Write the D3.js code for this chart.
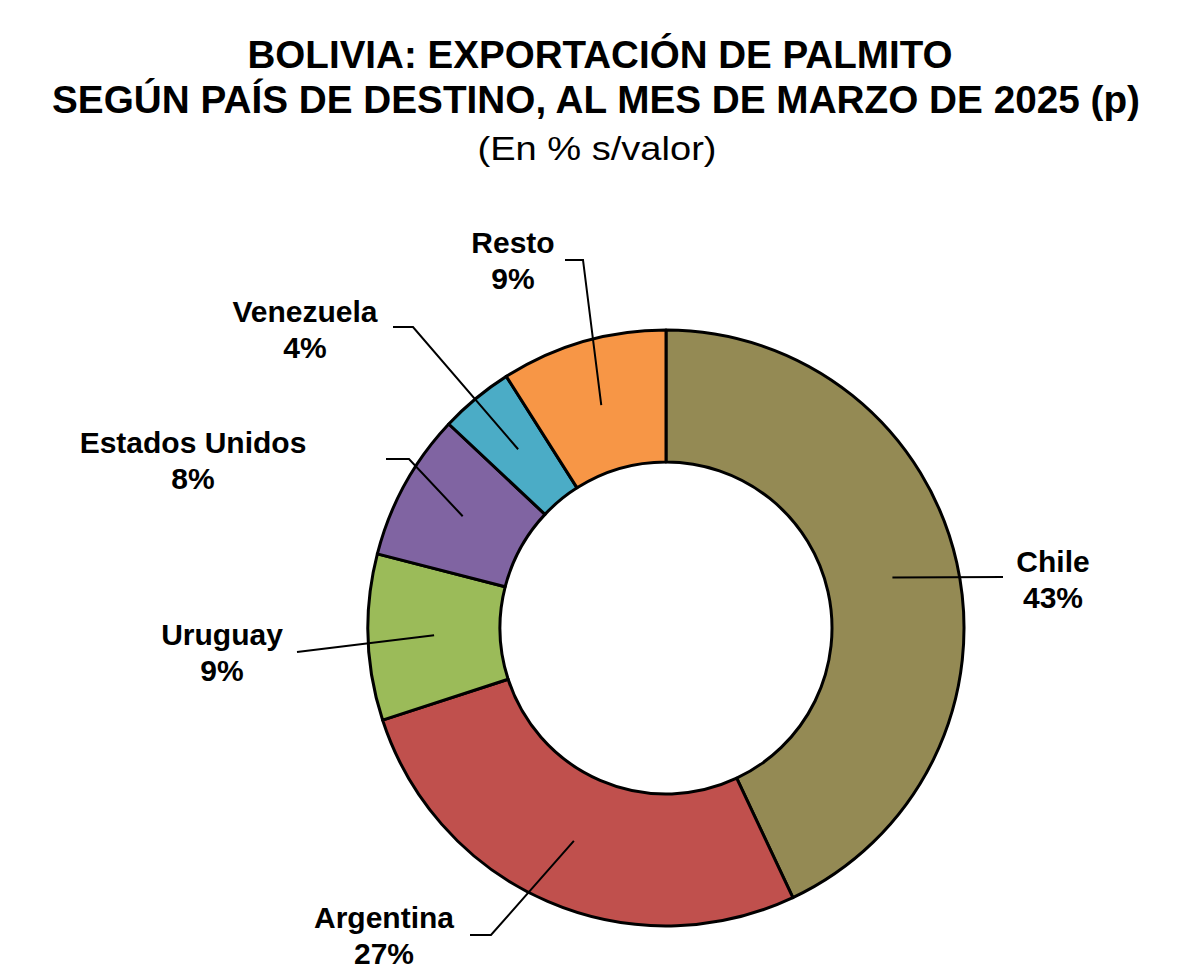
<meta charset="utf-8">
<title>Bolivia: exportación de palmito</title>
<style>
  body { margin: 0; background: #fff; }
  svg text { font-family: "Liberation Sans", Arial, sans-serif; fill: #000; }
</style>
<svg width="1200" height="979"></svg>
<script src="https://d3js.org/d3.v7.min.js"></script>
<script>

// data (share of value, %)
var paises  = ["Chile", "Argentina", "Uruguay", "Estados Unidos", "Venezuela", "Resto"];
var valores = [43, 27, 9, 8, 4, 9];
var colores = ["#948A54", "#C0504D", "#9BBB59", "#8064A2", "#4BACC6", "#F79646"];

var titulo = ["BOLIVIA: EXPORTACIÓN DE PALMITO",
              "SEGÚN PAÍS DE DESTINO, AL MES DE MARZO DE 2025 (p)"];
var subtitulo = "(En % s/valor)";

// where each label sits (hand placed, like in the original sheet)
var layout = {
  "Chile":          { tx: 1053, ty: 572, elbow: null,       end: [1003, 577] },
  "Argentina":      { tx: 384,  ty: 928, elbow: [491, 935], end: [470, 935] },
  "Uruguay":        { tx: 222,  ty: 645, elbow: null,       end: [297, 652] },
  "Estados Unidos": { tx: 193,  ty: 453, elbow: [409, 459], end: [386, 459] },
  "Venezuela":      { tx: 305,  ty: 322, elbow: [413, 327], end: [393, 327] },
  "Resto":          { tx: 513,  ty: 253, elbow: [583, 260], end: [565, 260] }
};

var svg = d3.select("svg");
var cx = 666, cy = 628;
var rOut = 298, rIn = 166;

// title
svg.append("text").attr("x", 600).attr("y", 68)
  .attr("text-anchor", "middle").attr("font-weight", "bold").attr("font-size", 38)
  .attr("textLength", 705).attr("lengthAdjust", "spacingAndGlyphs")
  .text(titulo[0]);
svg.append("text").attr("x", 596).attr("y", 113)
  .attr("text-anchor", "middle").attr("font-weight", "bold").attr("font-size", 38)
  .attr("textLength", 1088).attr("lengthAdjust", "spacingAndGlyphs")
  .text(titulo[1]);
svg.append("text").attr("x", 597).attr("y", 160)
  .attr("text-anchor", "middle").attr("font-size", 33)
  .attr("textLength", 239).attr("lengthAdjust", "spacingAndGlyphs")
  .text(subtitulo);

var data = paises.map(function(p, i) {
  return { name: p, value: valores[i], color: colores[i] };
});

var pie = d3.pie().value(function(d) { return d.value; }).sort(null);
var arc = d3.arc().innerRadius(rIn).outerRadius(rOut);
var mid = d3.arc().innerRadius(232).outerRadius(232);

var g = svg.append("g").attr("transform", "translate(" + cx + "," + cy + ")");
var arcs = pie(data);

g.selectAll("path")
  .data(arcs)
  .enter()
  .append("path")
  .attr("d", arc)
  .attr("fill", function(d) { return d.data.color; })
  .attr("stroke", "#000")
  .attr("stroke-width", 3)
  .attr("stroke-linejoin", "round");

// leader lines
svg.append("g").selectAll("polyline")
  .data(arcs)
  .enter()
  .append("polyline")
  .attr("fill", "none")
  .attr("stroke", "#000")
  .attr("stroke-width", 2)
  .attr("points", function(d) {
    var c = mid.centroid(d);
    var L = layout[d.data.name];
    var pts = [[c[0] + cx, c[1] + cy]];
    if (L.elbow) pts.push(L.elbow);
    pts.push(L.end);
    return pts.map(function(p) { return p.join(","); }).join(" ");
  });

// labels
var labels = svg.append("g").selectAll("text")
  .data(arcs)
  .enter()
  .append("text")
  .attr("text-anchor", "middle")
  .attr("font-weight", "bold")
  .attr("font-size", 30);

labels.append("tspan")
  .attr("x", function(d) { return layout[d.data.name].tx; })
  .attr("y", function(d) { return layout[d.data.name].ty; })
  .text(function(d) { return d.data.name; });

labels.append("tspan")
  .attr("x", function(d) { return layout[d.data.name].tx; })
  .attr("y", function(d) { return layout[d.data.name].ty + 36; })
  .text(function(d) { return d3.format(".0f")(d.data.value) + "%"; });

</script>
